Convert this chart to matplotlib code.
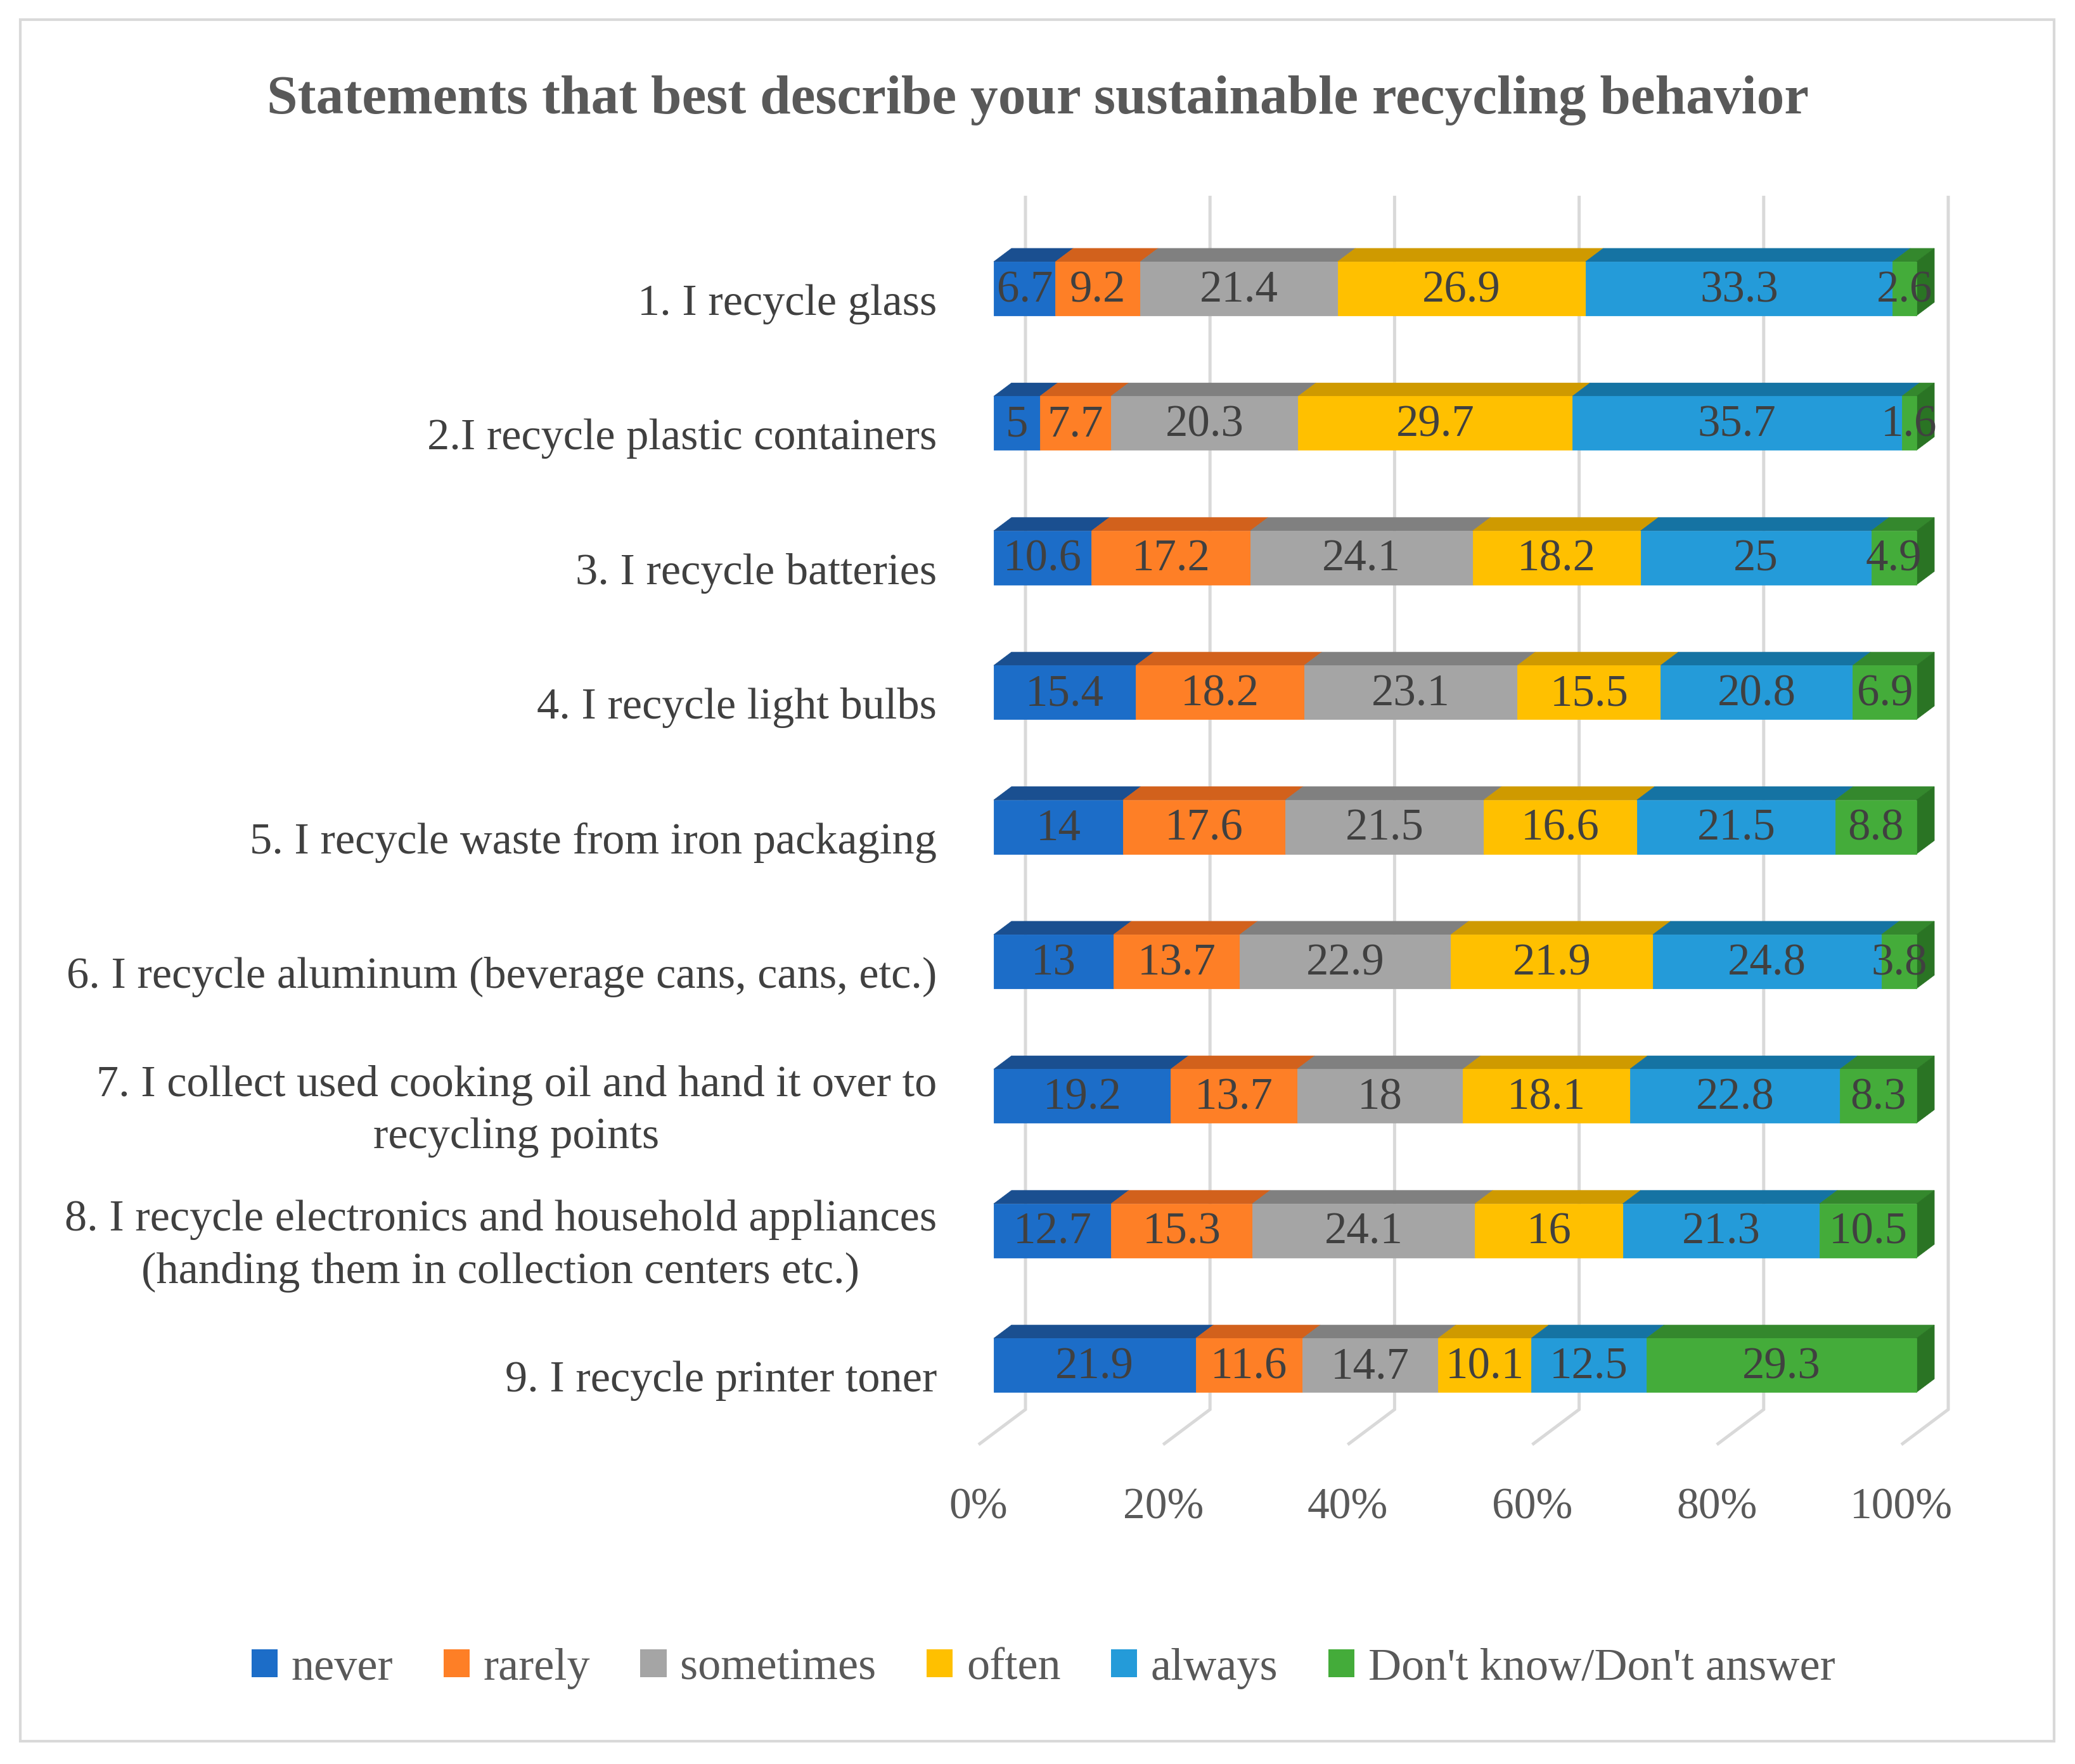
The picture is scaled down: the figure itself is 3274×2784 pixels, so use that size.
import matplotlib
matplotlib.use('Agg')
import matplotlib.pyplot as plt
from matplotlib.patches import Polygon, Rectangle, Patch
import numpy as np

plt.rcParams['font.family'] = ['Liberation Serif', 'DejaVu Serif']

title = "Statements that best describe your sustainable recycling behavior"
categories = [
    "1. I recycle glass",
    "2.I recycle plastic containers",
    "3. I recycle batteries",
    "4. I recycle light bulbs",
    "5. I recycle waste from iron packaging",
    "6. I recycle aluminum (beverage cans, cans, etc.)",
    "7. I collect used cooking oil and hand it over to\nrecycling points",
    "8. I recycle electronics and household appliances\n(handing them in collection centers etc.)",
    "9. I recycle printer toner",
]
series_names = ["never", "rarely", "sometimes", "often", "always", "Don't know/Don't answer"]
never = [6.7, 5, 10.6, 15.4, 14, 13, 19.2, 12.7, 21.9]
rarely = [9.2, 7.7, 17.2, 18.2, 17.6, 13.7, 13.7, 15.3, 11.6]
sometimes = [21.4, 20.3, 24.1, 23.1, 21.5, 22.9, 18, 24.1, 14.7]
often = [26.9, 29.7, 18.2, 15.5, 16.6, 21.9, 18.1, 16, 10.1]
always = [33.3, 35.7, 25, 20.8, 21.5, 24.8, 22.8, 21.3, 12.5]
dont_know = [2.6, 1.6, 4.9, 6.9, 8.8, 3.8, 8.3, 10.5, 29.3]
xticks = [0, 20, 40, 60, 80, 100]
xtick_labels = ["0%", "20%", "40%", "60%", "80%", "100%"]

front_colors = ['#1C6DC8', '#FE7F26', '#A5A5A5', '#FFC000', '#249BD9', '#44AC3A']
top_colors = ['#1A4F90', '#D2611C', '#808080', '#CF9A00', '#1573A3', '#34882D']
side_colors = ['#163F73', '#A84E16', '#666666', '#A67B00', '#105C82', '#2A7424']

series = [never, rarely, sometimes, often, always, dont_know]

W, H, DPI = 3274, 2784, 200
fig = plt.figure(figsize=(W / DPI, H / DPI), dpi=DPI)
ax = fig.add_axes([0, 0, 1, 1])
X0_PX, PX_PER_PCT = 1568, 14.56
Y0_PX, PX_PER_CAT = 455.5, 212.4
ax.set_xlim(-X0_PX / PX_PER_PCT, (W - X0_PX) / PX_PER_PCT)
ax.set_ylim((H - Y0_PX) / PX_PER_CAT, -Y0_PX / PX_PER_CAT)
ax.axis('off')

# pseudo-3D depth
DDX = 28 / PX_PER_PCT
DDY = -21 / PX_PER_CAT
D_FRONT, D_BACK = -0.857, 1.786
FLOOR_Y0 = 8.505
WALL_TOP = -0.69
BAR_H = 0.40
grid_c = '#D9D9D9'

floor_back = FLOOR_Y0 + D_BACK * DDY
floor_front = FLOOR_Y0 + D_FRONT * DDY
for t in xticks:
    bx = t + D_BACK * DDX
    fx = t + D_FRONT * DDX
    ax.plot([bx, bx, fx], [WALL_TOP, floor_back, floor_front], color=grid_c, lw=1.8,
            zorder=1, solid_capstyle='butt', solid_joinstyle='miter')

data = np.array(series, dtype=float)  # shape (6, 9)
totals = data.sum(axis=0)
pct = data / totals * 100

for i in range(len(categories)):
    left = 0.0
    ytop = i - BAR_H / 2
    ybot = i + BAR_H / 2
    for s in range(len(series)):
        w = pct[s, i]
        r = left + w
        front = Polygon([(left, ytop), (r, ytop), (r, ybot), (left, ybot)], closed=True,
                        facecolor=front_colors[s], edgecolor=front_colors[s], lw=0.3, zorder=3)
        top = Polygon([(left, ytop), (r, ytop), (r + DDX, ytop + DDY), (left + DDX, ytop + DDY)],
                      closed=True, facecolor=top_colors[s], edgecolor=top_colors[s], lw=0.3, zorder=2)
        ax.add_patch(top)
        ax.add_patch(front)
        if s == len(series) - 1:
            side = Polygon([(r, ytop), (r, ybot), (r + DDX, ybot + DDY), (r + DDX, ytop + DDY)],
                           closed=True, facecolor=side_colors[s], edgecolor=side_colors[s], lw=0.3, zorder=2)
            ax.add_patch(side)
        ax.text(left + w / 2, i + 0.015, f"{data[s, i]:g}", ha='center', va='center',
                fontsize=25.5, color='#404040', zorder=5)
        left = r
    ax.text(-6.18, i + 0.115, categories[i], ha='right', va='center', multialignment='center',
            fontsize=25.35, color='#404040', linespacing=1.38)

for t, lab in zip(xticks, xtick_labels):
    ax.text(t + D_FRONT * DDX, 9.06, lab, ha='center', va='center', fontsize=25, color='#595959')

fig.text(1638 / W, 1 - 158 / H, title, ha='center', va='center', fontsize=31.4,
         fontweight='bold', color='#595959')

handles = [Patch(facecolor=c, edgecolor='none') for c in front_colors]
fig.legend(handles, series_names, loc='center', bbox_to_anchor=(1646 / W, 1 - 2633 / H), ncol=6,
           frameon=False, fontsize=26, handlelength=0.57, handleheight=0.57, handletextpad=0.3,
           columnspacing=1.1, labelcolor='#595959')

fig.patches.append(Rectangle((32 / W, 1 - 2748 / H), (3241 - 32) / W, (2748 - 31) / H,
                             transform=fig.transFigure, fill=False, edgecolor='#D9D9D9', lw=1.5))

fig.savefig('out.png', dpi=DPI, facecolor='white')
